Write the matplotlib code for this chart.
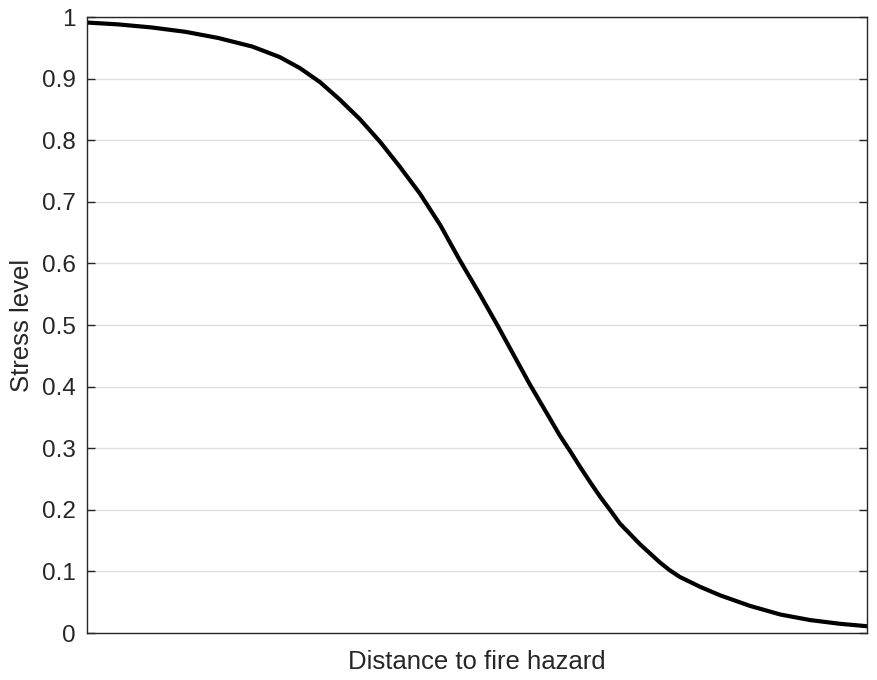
import numpy as np
import matplotlib.pyplot as plt

# curve (x is fraction of the axis width)
distance = [0.000, 0.040, 0.083, 0.126, 0.168, 0.212, 0.247, 0.273, 0.299,
            0.324, 0.350, 0.376, 0.401, 0.427, 0.453, 0.478, 0.504, 0.526,
            0.542, 0.568, 0.594, 0.606, 0.619, 0.632, 0.645, 0.658, 0.671,
            0.683, 0.709, 0.735, 0.747, 0.760, 0.786, 0.812, 0.850, 0.889,
            0.927, 0.965, 1.000]
stress = [0.991, 0.988, 0.983, 0.976, 0.966, 0.952, 0.935, 0.917, 0.894,
          0.866, 0.834, 0.797, 0.757, 0.713, 0.662, 0.605, 0.549, 0.500,
          0.463, 0.403, 0.347, 0.321, 0.296, 0.270, 0.245, 0.221, 0.199,
          0.178, 0.144, 0.114, 0.102, 0.091, 0.075, 0.061, 0.044, 0.030,
          0.021, 0.015, 0.011]
yticks = [0, 0.1, 0.2, 0.3, 0.4, 0.5, 0.6, 0.7, 0.8, 0.9, 1]
ytick_labels = ['0', '0.1', '0.2', '0.3', '0.4', '0.5', '0.6', '0.7', '0.8', '0.9', '1']

plt.rcParams['font.family'] = ['Liberation Sans', 'DejaVu Sans']
txt = (0.15, 0.15, 0.15)

fig = plt.figure(figsize=(8.77, 6.8), dpi=100)
ax = fig.add_axes([87 / 877, 47 / 680, 780 / 877, 616 / 680])

ax.plot(distance, stress, color='black', lw=3, solid_joinstyle='round')

ax.set_xlim(0, 1)
ax.set_ylim(0, 1)
ax.set_xticks([])
ax.set_yticks(yticks)
ax.set_yticklabels(ytick_labels)
ax.tick_params(axis='y', direction='in', length=6, width=1, colors=txt,
               labelsize=17.5, right=True, pad=8)
ax.grid(axis='y', color=(0.15, 0.15, 0.15), alpha=0.15, lw=1)
ax.set_axisbelow(True)
for s in ax.spines.values():
    s.set_color(txt)
    s.set_linewidth(1)

ax.set_xlabel('Distance to fire hazard', fontsize=18.5, color=txt, labelpad=12)
ax.set_ylabel('Stress level', fontsize=18.5, color=txt, labelpad=6)

fig.savefig('out.png', dpi=100)
